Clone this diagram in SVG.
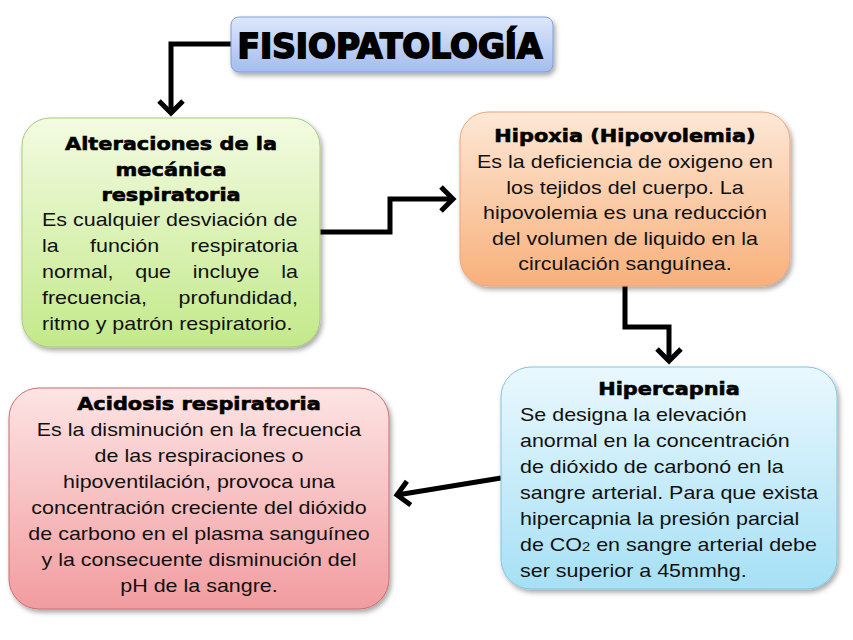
<svg xmlns="http://www.w3.org/2000/svg" width="853" height="640" viewBox="0 0 853 640">
<style>
.body{font-family:"Liberation Sans",Arial,sans-serif;font-size:19px;fill:#111}
.hd{font-family:"DejaVu Sans","Liberation Sans",sans-serif;font-weight:bold;font-size:18.5px;fill:#000;stroke:#000;stroke-width:0.6}
.c{text-anchor:middle}
.e{text-anchor:end}
.conn{fill:none;stroke:#000;stroke-width:5;stroke-linejoin:miter}
.box{filter:url(#sh)}
</style>
<defs>
<filter id="sh" x="-10%" y="-10%" width="125%" height="130%">
<feDropShadow dx="2" dy="3" stdDeviation="2.5" flood-color="#000" flood-opacity="0.35"/>
</filter>
<linearGradient id="gT" x1="0" y1="0" x2="0" y2="1"><stop offset="0" stop-color="#dde7fa"/><stop offset="1" stop-color="#a3bdee"/></linearGradient>
<linearGradient id="gG" x1="0" y1="0" x2="0" y2="1"><stop offset="0" stop-color="#f3fbe2"/><stop offset="1" stop-color="#c3e98a"/></linearGradient>
<linearGradient id="gO" x1="0" y1="0" x2="0" y2="1"><stop offset="0" stop-color="#fde8d6"/><stop offset="1" stop-color="#f8b07b"/></linearGradient>
<linearGradient id="gB" x1="0" y1="0" x2="0" y2="1"><stop offset="0" stop-color="#eaf8fe"/><stop offset="1" stop-color="#a6e0f5"/></linearGradient>
<linearGradient id="gR" x1="0" y1="0" x2="0" y2="1"><stop offset="0" stop-color="#fde4e4"/><stop offset="1" stop-color="#f29c9f"/></linearGradient>
<marker id="ah" markerUnits="userSpaceOnUse" viewBox="-18 -16 24 32" refX="0" refY="0" markerWidth="24" markerHeight="32" orient="auto" overflow="visible">
<path d="M-12,-12 L0,0 L-12,12" fill="none" stroke="#000" stroke-width="5" stroke-linejoin="miter"/>
</marker>
</defs>

<g id="connectors">
<path class="conn" d="M231,44 H171 V113" marker-end="url(#ah)"/>
<path class="conn" d="M320,232 H390 V199 H453" marker-end="url(#ah)"/>
<path class="conn" d="M625,286 V327 H669 V361" marker-end="url(#ah)"/>
<path class="conn" d="M501,478 L397,495" marker-end="url(#ah)"/>
</g>

<g id="title">
<rect class="box" x="231" y="17" width="322" height="55" rx="8" fill="url(#gT)" stroke="#7f9fd6" stroke-width="1"/>
<text x="390" y="58" text-anchor="middle" font-family="'DejaVu Sans',sans-serif" font-weight="bold" font-size="34" textLength="305" lengthAdjust="spacingAndGlyphs" fill="#000" stroke="#000" stroke-width="1.8">FISIOPATOLOGÍA</text>
</g>

<g id="alteraciones">
<rect class="box" x="22" y="118" width="298" height="229" rx="28" fill="url(#gG)" stroke="#a9c97a" stroke-width="1"/>
<g transform="matrix(1.13 0 0 1 -5.46 0)">
<text class="hd c" x="156.2" y="150">Alteraciones de la</text>
<text class="hd c" x="156.2" y="176">mecánica</text>
<text class="hd c" x="156.2" y="201">respiratoria</text>
<text class="body" x="42" y="226">Es cualquier desviación de</text>
<text class="body" x="42" y="252">la</text><text class="body" x="84.5" y="252">función</text><text class="body e" x="268.5" y="252">respiratoria</text>
<text class="body" x="42" y="278">normal,</text><text class="body" x="124.5" y="278">que</text><text class="body" x="175.4" y="278">incluye</text><text class="body e" x="268.5" y="278">la</text>
<text class="body" x="42" y="304">frecuencia,</text><text class="body e" x="268.5" y="304">profundidad,</text>
<text class="body" x="42" y="330">ritmo y patrón respiratorio.</text>
</g>
</g>

<g id="hipoxia">
<rect class="box" x="460" y="112" width="330" height="174" rx="28" fill="url(#gO)" stroke="#eda57c" stroke-width="1"/>
<g transform="matrix(1.13 0 0 1 -81.25 0)">
<text class="hd c" x="625" y="142">Hipoxia (Hipovolemia)</text>
<text class="body c" x="625" y="168">Es la deficiencia de oxigeno en</text>
<text class="body c" x="625" y="194">los tejidos del cuerpo. La</text>
<text class="body c" x="625" y="219">hipovolemia es una reducción</text>
<text class="body c" x="625" y="245">del volumen de liquido en la</text>
<text class="body c" x="625" y="270">circulación sanguínea.</text>
</g>
</g>

<g id="hipercapnia">
<rect class="box" x="501" y="367" width="336" height="222" rx="30" fill="url(#gB)" stroke="#80c6de" stroke-width="1"/>
<g transform="matrix(1.13 0 0 1 -67.6 0)">
<text class="hd c" x="651.9" y="395">Hipercapnia</text>
<text class="body" x="520" y="421">Se designa la elevación</text>
<text class="body" x="520" y="447">anormal en la concentración</text>
<text class="body" x="520" y="473">de dióxido de carbonó en la</text>
<text class="body" x="520" y="499">sangre arterial. Para que exista</text>
<text class="body" x="520" y="525">hipercapnia la presión parcial</text>
<text class="body" x="520" y="551">de CO<tspan font-size="13">2</tspan> en sangre arterial debe</text>
<text class="body" x="520" y="577">ser superior a 45mmhg.</text>
</g>
</g>

<g id="acidosis">
<rect class="box" x="9" y="388" width="380" height="221" rx="30" fill="url(#gR)" stroke="#c96f72" stroke-width="1"/>
<g transform="matrix(1.13 0 0 1 -25.87 0)">
<text class="hd c" x="199" y="410">Acidosis respiratoria</text>
<text class="body c" x="199" y="436">Es la disminución en la frecuencia</text>
<text class="body c" x="199" y="462">de las respiraciones o</text>
<text class="body c" x="199" y="488">hipoventilación, provoca una</text>
<text class="body c" x="199" y="514">concentración creciente del dióxido</text>
<text class="body c" x="199" y="540">de carbono en el plasma sanguíneo</text>
<text class="body c" x="199" y="566">y la consecuente disminución del</text>
<text class="body c" x="199" y="592">pH de la sangre.</text>
</g>
</g>
</svg>
